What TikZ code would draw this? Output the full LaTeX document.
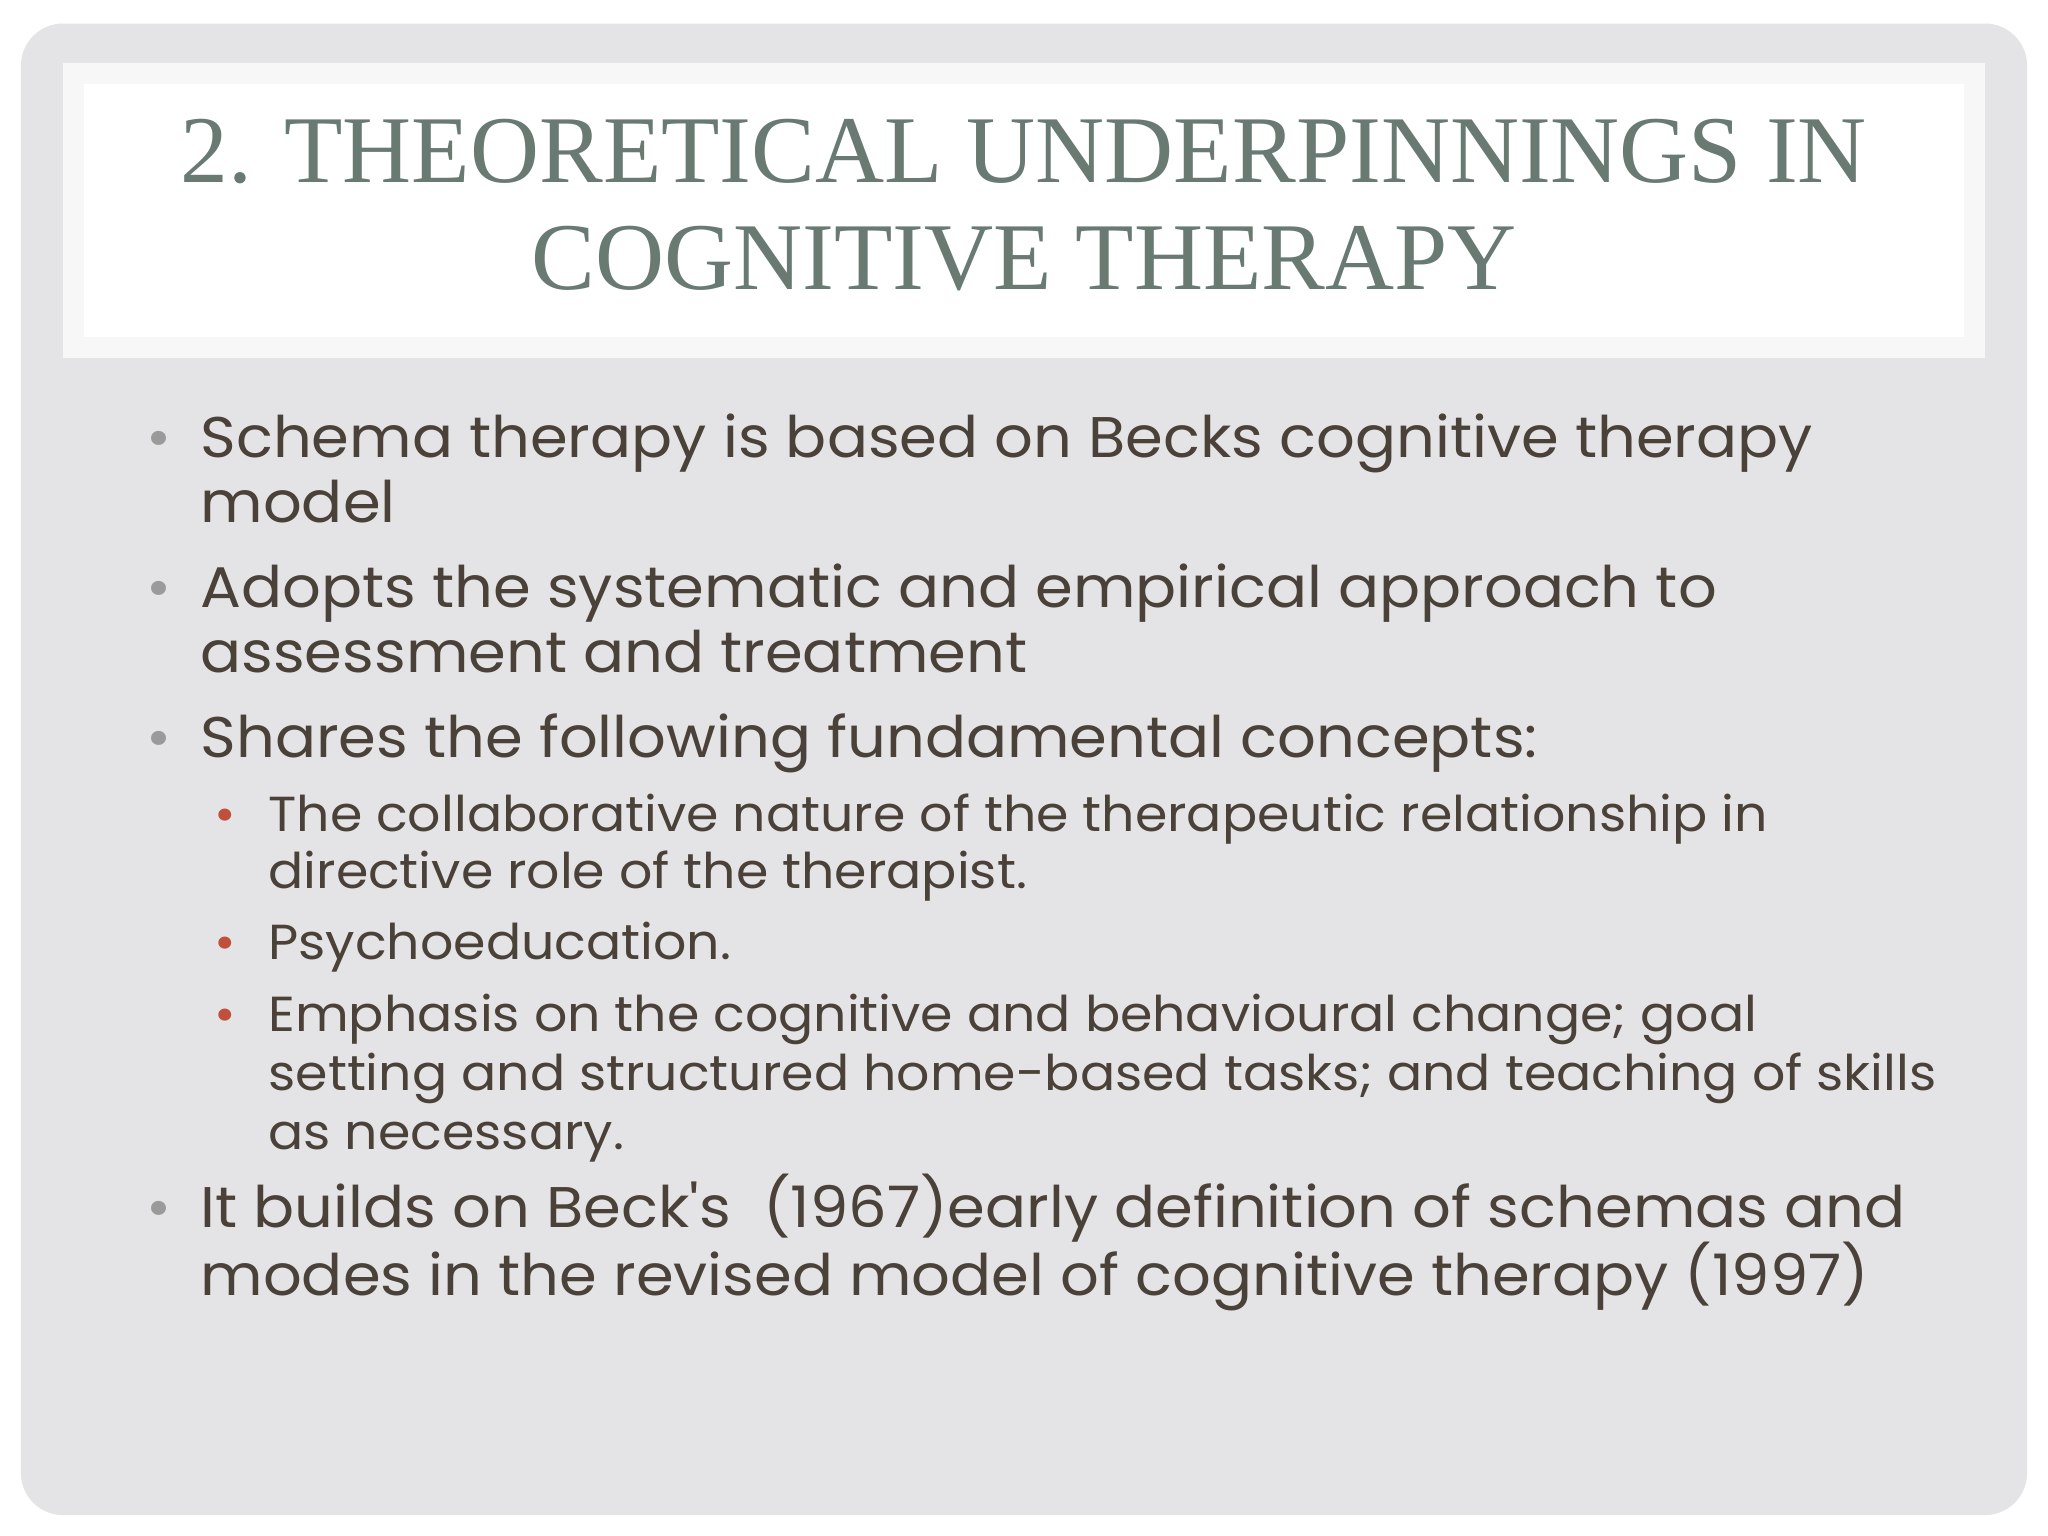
\documentclass[tikz,border=0pt]{standalone}
\usepackage{fontspec}
\setmainfont{Liberation Serif}
\newfontfamily\bodyfont[FakeStretch=1.06]{Poppins}
\definecolor{bg}{HTML}{E4E3E6}
\definecolor{titlec}{HTML}{687A72}
\definecolor{txt}{HTML}{4A4238}
\definecolor{bul}{HTML}{9A9A9A}
\definecolor{redb}{HTML}{C0503C}
\begin{document}
\begin{tikzpicture}[x=0.013061cm,y=-0.013061cm,
  l1/.style={anchor=base west,inner sep=0,text=txt,font=\bodyfont\fontsize{16.3}{18}\selectfont},
  l2/.style={anchor=base west,inner sep=0,text=txt,font=\bodyfont\fontsize{14.0}{15}\selectfont},
  b1/.style={anchor=base west,inner sep=0,text=bul,font=\bodyfont\fontsize{16.3}{18}\selectfont},
  b2/.style={anchor=base west,inner sep=0,text=redb,font=\bodyfont\fontsize{14.0}{15}\selectfont},
  tl/.style={anchor=base,inner sep=0,text=titlec,font=\fontsize{27.2}{30}\selectfont}]
\useasboundingbox (0,0) rectangle (1568,1176);
\fill[white] (0,0) rectangle (1568,1176);
\fill[bg,rounded corners=12] (16,18) rectangle (1552,1160);
\fill[white!70!bg] (48,48) rectangle (1520,274);
\fill[white] (64,64) rectangle (1504,258);
\node[tl] (t1) at (784,140) {2. THEORETICAL UNDERPINNINGS IN};
\node[tl] (t2) at (784,222) {COGNITIVE THERAPY};
\foreach \y in {350,465,580,940} \node[b1] at (112,\y) {•};
\foreach \y in {637,735,790} \node[b2] at (164,\y) {•};
\node[l1] (a1) at (153,350) {Schema therapy is based on Becks cognitive therapy};
\node[l1] (a2) at (153,400) {model};
\node[l1] (b1) at (153,465) {Adopts the systematic and empirical approach to};
\node[l1] (b2) at (153,515) {assessment and treatment};
\node[l1] (c1) at (153,580) {Shares the following fundamental concepts:};
\node[l2] (d1) at (205,637) {The collaborative nature of the therapeutic relationship in};
\node[l2] (d2) at (205,680) {directive role of the therapist.};
\node[l2] (e1) at (205,735) {Psychoeducation.};
\node[l2] (f1) at (205,790) {Emphasis on the cognitive and behavioural change; goal};
\node[l2] (f2) at (205,835) {setting and structured home-based tasks; and teaching of skills};
\node[l2] (f3) at (205,880) {as necessary.};
\node[l1] (g1) at (153,940) {It builds on Beck's\ \ (1967)early definition of schemas and};
\node[l1] (g2) at (153,992) {modes in the revised model of cognitive therapy (1997)};
\end{tikzpicture}
\end{document}
